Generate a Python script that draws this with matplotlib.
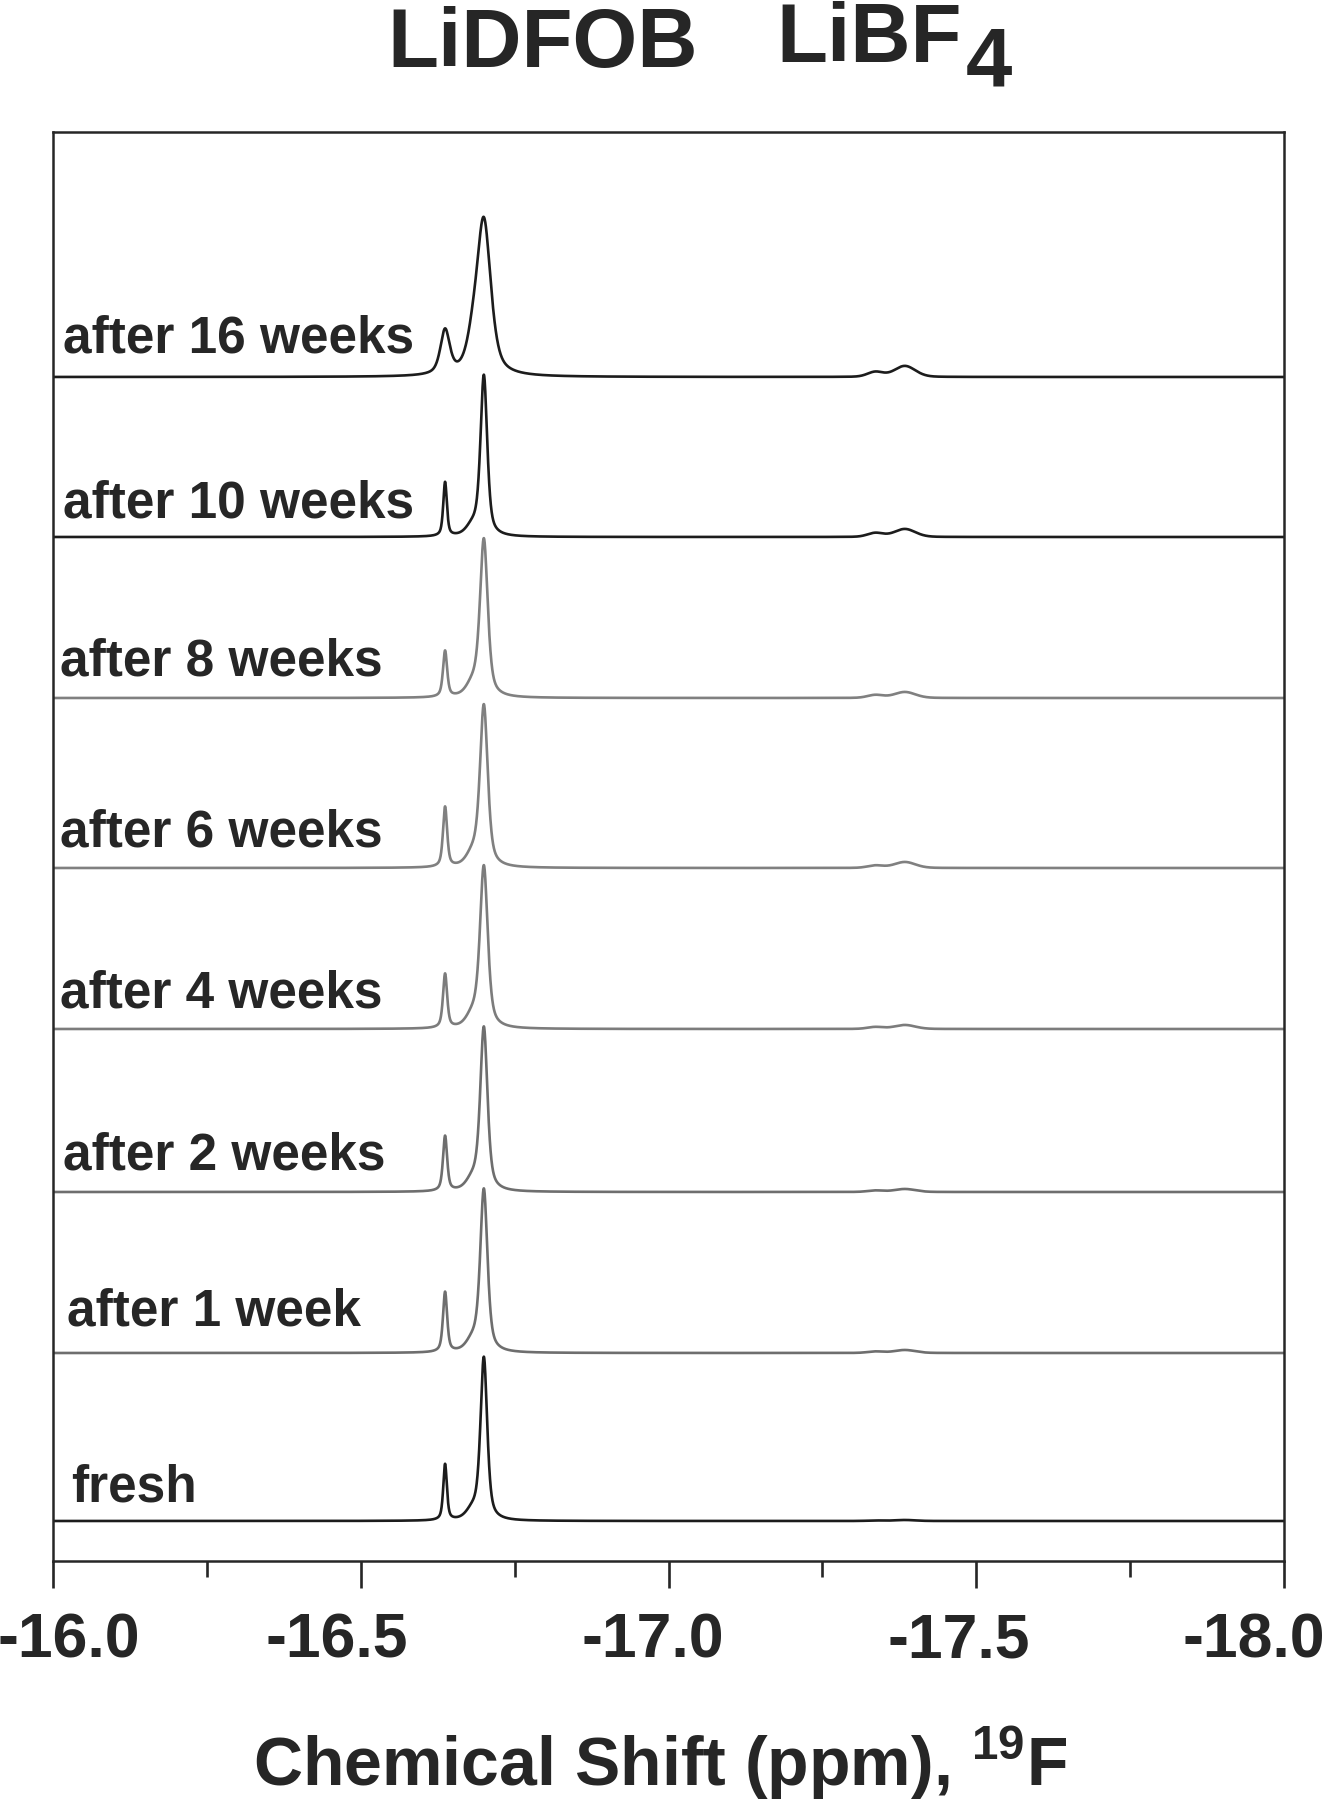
import numpy as np
import matplotlib
matplotlib.use("Agg")
import matplotlib.pyplot as plt
import matplotlib.transforms as mtransforms
from matplotlib.ticker import FixedLocator, MultipleLocator

plt.rcParams['font.family'] = ['Liberation Sans', 'DejaVu Sans']
plt.rcParams['font.weight'] = 'bold'
plt.rcParams['mathtext.fontset'] = 'custom'
plt.rcParams['mathtext.rm'] = 'Liberation Sans:bold'
plt.rcParams['mathtext.bf'] = 'Liberation Sans:bold'
plt.rcParams['axes.unicode_minus'] = False

# ---- data (19F NMR, ppm) ----
labels = ["fresh", "after 1 week", "after 2 weeks", "after 4 weeks",
          "after 6 weeks", "after 8 weeks", "after 10 weeks", "after 16 weeks"]
# LiBF4 main peak, LiDFOB small peak, shoulder, and two weak decomposition bumps
main_pos, small_pos, shoulder_pos = -16.700, -16.637, -16.682
bump_pos = [-17.336, -17.384]
main_height = [162, 162, 163, 161, 161, 157, 160, 154]
small_height = [56, 60, 55, 54, 60, 46, 54, 44]
shoulder_height = [9, 10, 10, 11, 11, 11, 9, 22]
bump_height_a = [0.5, 1.5, 1.5, 2, 2.5, 3, 4, 5]
bump_height_b = [1, 3, 3, 4, 6, 6, 8, 11]
main_fwhm = [0.013, 0.014, 0.014, 0.015, 0.015, 0.015, 0.013, 0.027]
small_fwhm = [0.007, 0.008, 0.008, 0.008, 0.008, 0.008, 0.007, 0.018]
line_colors = ["#1c1c1c", "#6e6e6e", "#6e6e6e", "#7c7c7c",
               "#808080", "#808080", "#1c1c1c", "#1c1c1c"]

tick_values = [-16.0, -16.5, -17.0, -17.5, -18.0]
tick_labels = ["-16.0", "-16.5", "-17.0", "-17.5", "-18.0"]

# layout (pixels of the 1332x1800 canvas)
offsets = [40, 208, 369, 532, 693, 863, 1024, 1184]
label_x = [71, 67, 63, 60, 60, 60, 63, 63]
label_dy = [20, 27, 22, 22, 22, 22, 20, 25]


def pvoigt(x, x0, h, fwhm, eta=0.6):
    hw = fwhm / 2.0
    lor = 1.0 / (1.0 + ((x - x0) / hw) ** 2)
    gau = np.exp(-np.log(2) * ((x - x0) / hw) ** 2)
    return h * (eta * lor + (1 - eta) * gau)


ppm = np.linspace(-16.0, -18.0, 6001)

fig = plt.figure(figsize=(13.32, 18), dpi=100)
L, R, T, B = 53, 1284, 132, 1561
ax = fig.add_axes([L / 1332, 1 - B / 1800, (R - L) / 1332, (B - T) / 1800])
ax.set_xlim(-16.0, -18.0)
ax.set_ylim(0, B - T)

tr = mtransforms.blended_transform_factory(ax.transAxes, ax.transData)
for i in range(len(labels)):
    y = (pvoigt(ppm, main_pos, main_height[i], main_fwhm[i])
         + pvoigt(ppm, small_pos, small_height[i], small_fwhm[i])
         + pvoigt(ppm, shoulder_pos, shoulder_height[i], 0.024, eta=0.4)
         + pvoigt(ppm, bump_pos[0], bump_height_a[i], 0.03, eta=0.2)
         + pvoigt(ppm, bump_pos[1], bump_height_b[i], 0.04, eta=0.2))
    ax.plot(ppm, y + offsets[i], color=line_colors[i], lw=1.9)
    ax.text((label_x[i] - L) / (R - L), offsets[i] + label_dy[i], labels[i],
            transform=tr, fontsize=37, fontweight='bold', color="#262626",
            ha='left', va='baseline')

for s in ax.spines.values():
    s.set_linewidth(1.8)
    s.set_color("#262626")

ax.set_yticks([])
ax.xaxis.set_major_locator(FixedLocator(tick_values))
ax.xaxis.set_minor_locator(MultipleLocator(0.25))
ax.set_xticklabels(tick_labels)
ax.tick_params(axis='x', which='major', direction='out', length=19.5, width=1.9,
               color="#262626", pad=17, labelsize=45, labelcolor="#262626")
ax.tick_params(axis='x', which='minor', direction='out', length=11.5, width=1.9,
               color="#262626")
shifts = [16, -24, -16, -18, -30]
for lab, dx in zip(ax.get_xticklabels(), shifts):
    lab.set_transform(lab.get_transform() +
                      mtransforms.ScaledTranslation(dx / 100, 0, fig.dpi_scale_trans))

fig.text(253 / 1332, 1 - 1786 / 1800, r"Chemical Shift (ppm), $^{19}$F",
         fontsize=49, fontweight='bold', color="#262626", ha='left', va='baseline')

fig.text(387 / 1332, 1 - 67 / 1800, "LiDFOB", fontsize=60, fontweight='bold',
         color="#262626", ha='left', va='baseline')
fig.text(776 / 1332, 1 - 62 / 1800, "LiBF", fontsize=60, fontweight='bold',
         color="#262626", ha='left', va='baseline')
fig.text(966 / 1332, 1 - 87 / 1800, "4", fontsize=60, fontweight='bold',
         color="#262626", ha='left', va='baseline')

fig.savefig("out.png", dpi=100)
